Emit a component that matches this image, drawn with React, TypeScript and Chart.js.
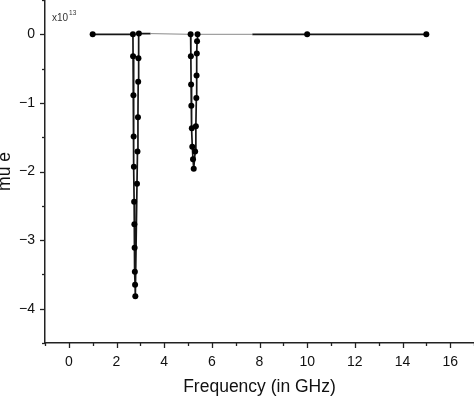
import React, { useEffect, useRef } from "react";
import { Chart, registerables } from "chart.js";

Chart.register(...registerables);

// Frequency (GHz) and mu_e (x10^13), in sweep order
const freq = [
  1.0,
  2.69, 2.695, 2.71, 2.72, 2.73, 2.74, 2.75, 2.76, 2.77, 2.78, 2.79,
  2.86, 2.88, 2.9, 2.91, 2.92, 2.94, 3.43,
  5.11, 5.12, 5.13, 5.14, 5.16, 5.18, 5.21, 5.24,
  5.3, 5.33, 5.35, 5.36, 5.37, 5.38, 5.4,
  7.7, 10.0, 15.0,
];
const muE = [
  0,
  0, -0.32, -0.89, -1.49, -1.93, -2.44, -2.77, -3.11, -3.46, -3.65, -3.82,
  -2.18, -1.71, -1.21, -0.69, -0.35, 0.01, 0.01,
  0, -0.32, -0.73, -1.04, -1.37, -1.64, -1.82, -1.96,
  -1.71, -1.34, -0.93, -0.6, -0.28, -0.1, 0,
  0, 0, 0,
];
const unmarkedFreq = [3.43, 7.7];
const xTickValues = [-1, 0, 1, 2, 3, 4, 5, 6, 7, 8, 9, 10, 11, 12, 13, 14, 15, 16, 17];
const xTickLabels = ["", "0", "", "2", "", "4", "", "6", "", "8", "", "10", "", "12", "", "14", "", "16", ""];
const yTickValues = [0.5, 0, -0.5, -1, -1.5, -2, -2.5, -3, -3.5, -4, -4.5];
const yTickLabels = ["", "0", "", "\u22121", "", "\u22122", "", "\u22123", "", "\u22124", ""];
const xTitle = "Frequency (in GHz)";
const yTitle = "mu e";

const FONT = "'Liberation Sans', Arial, sans-serif";

const axisDecor = {
  id: "axisDecor",
  afterDraw(chart: any) {
    const { ctx, chartArea, scales } = chart;
    const xs = scales.x;
    const ys = scales.y;
    ctx.save();
    ctx.strokeStyle = "#222";
    ctx.lineWidth = 1.3;
    ctx.fillStyle = "#111";
    ctx.font = `14px ${FONT}`;
    // x ticks + labels
    ctx.textAlign = "center";
    ctx.textBaseline = "middle";
    xTickValues.forEach((v, i) => {
      const px = Math.round(xs.getPixelForValue(v)) + 0.5;
      const len = v % 2 === 0 ? 5 : 3;
      ctx.beginPath();
      ctx.moveTo(px, chartArea.bottom);
      ctx.lineTo(px, chartArea.bottom + len);
      ctx.stroke();
      if (xTickLabels[i]) ctx.fillText(xTickLabels[i], xs.getPixelForValue(v), 362);
    });
    // y ticks + labels
    ctx.textAlign = "right";
    yTickValues.forEach((v, i) => {
      const py = Math.round(ys.getPixelForValue(v)) + 0.5;
      const len = Number.isInteger(v) ? 5 : 3;
      ctx.beginPath();
      ctx.moveTo(chartArea.left, py);
      ctx.lineTo(chartArea.left - len, py);
      ctx.stroke();
      if (yTickLabels[i]) ctx.fillText(yTickLabels[i], 35, ys.getPixelForValue(v));
    });
    // titles
    ctx.font = `17.5px ${FONT}`;
    ctx.textAlign = "center";
    ctx.textBaseline = "middle";
    ctx.fillText(xTitle, (chartArea.left + chartArea.right) / 2, 387);
    ctx.save();
    ctx.translate(10, (chartArea.top + chartArea.bottom) / 2);
    ctx.rotate(-Math.PI / 2);
    ctx.textBaseline = "alphabetic";
    ctx.fillText(yTitle, 0, 0);
    ctx.restore();
    // multiplier
    ctx.textAlign = "left";
    ctx.textBaseline = "alphabetic";
    ctx.font = `10px ${FONT}`;
    ctx.fillStyle = "#333";
    ctx.fillText("x10", 52, 21);
    const w = ctx.measureText("x10").width;
    ctx.font = `6.5px ${FONT}`;
    ctx.fillText("13", 52 + w + 1, 15);
    ctx.restore();
  },
};

export default function App() {
  const ref = useRef<HTMLCanvasElement | null>(null);
  useEffect(() => {
    if (!ref.current) return;
    const data = freq.map((f, i) => ({ x: f, y: muE[i] }));
    const isThin = (c: any) =>
      c.p1.parsed.x - c.p0.parsed.x > 1 && c.p0.parsed.x > 3 && c.p1.parsed.x <= 7.7;
    const chart = new Chart(ref.current, {
      type: "line",
      data: {
        datasets: [
          {
            data,
            borderColor: "#161616",
            borderWidth: 1.7,
            backgroundColor: "#000",
            pointBackgroundColor: "#000",
            pointBorderColor: "#000",
            pointRadius: (c: any) =>
              unmarkedFreq.includes(freq[c.dataIndex]) ? 0 : 3,
            pointBorderWidth: 0,
            tension: 0,
            segment: {
              borderColor: (c: any) => (isThin(c) ? "#8a8a8a" : undefined),
              borderWidth: (c: any) => (isThin(c) ? 1 : undefined),
            },
          },
        ],
      },
      options: {
        animation: false,
        responsive: true,
        maintainAspectRatio: false,
        layout: { padding: 0, autoPadding: false },
        plugins: { legend: { display: false }, tooltip: { enabled: false } },
        scales: {
          x: {
            type: "linear",
            min: -1,
            max: 17,
            afterFit: (s: any) => {
              s.height = 54;
            },
            grid: { display: false, drawTicks: false },
            border: { display: true, color: "#222", width: 1.5 },
            ticks: { display: false },
          },
          y: {
            type: "linear",
            min: -4.5,
            max: 0.5,
            afterFit: (s: any) => {
              s.width = 45;
            },
            grid: { display: false, drawTicks: false },
            border: { display: true, color: "#222", width: 1.5 },
            ticks: { display: false },
          },
        },
      },
      plugins: [axisDecor],
    });
    return () => chart.destroy();
  }, []);
  return (
    <div style={{ position: "fixed", left: 0, top: 0, width: 474, height: 397, background: "#fff" }}>
      <canvas ref={ref} />
    </div>
  );
}
